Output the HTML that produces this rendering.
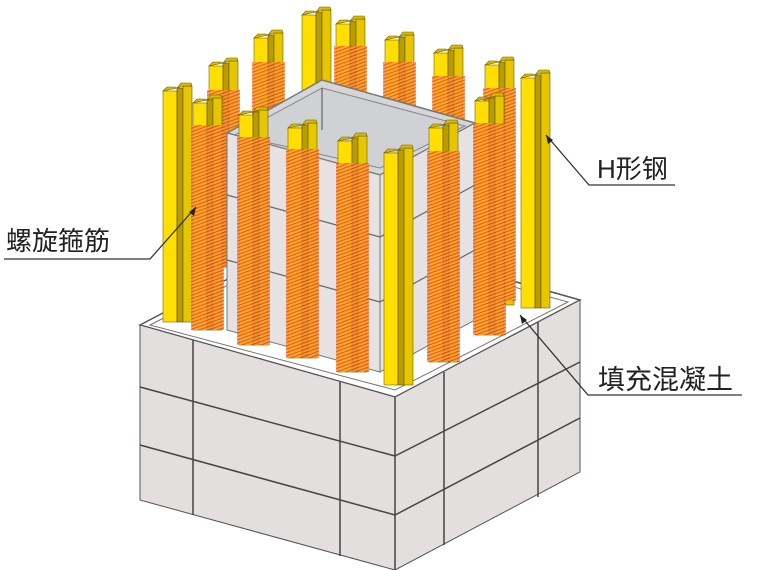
<!DOCTYPE html>
<html><head><meta charset="utf-8"><style>
html,body{margin:0;padding:0;background:#fff;overflow:hidden}
svg{display:block}
text{font-family:"Liberation Sans","Noto Sans CJK SC",sans-serif;fill:#222}
</style></head><body>
<svg width="760" height="570" viewBox="0 0 760 570" xmlns="http://www.w3.org/2000/svg">
<defs>
<pattern id="sp" width="6" height="3.2" patternUnits="userSpaceOnUse" patternTransform="rotate(-20)">
<rect width="6" height="3.2" fill="#F7A21A"/>
<rect y="0" width="6" height="1.1" fill="#E8285A"/>
</pattern>
<path id="cap" d="M0,0 L4,-4 L12,-4 L14,-3 L18,-8 L28,-8 L29,-5 L20,-5 L14,-3 Z" fill="#D8BC00" stroke="#6a5a00" stroke-width="0.6"/>
</defs>

<!-- base block -->
<polygon points="140,325 325,228 580,300 395,397" fill="#fff" stroke="#555" stroke-width="1.5"/>
<polygon points="150,325 326,235 568,302 395,390" fill="none" stroke="#777" stroke-width="1"/>
<polygon points="140,325 395,397 395,570 140,500" fill="#E3DFDE" stroke="#555" stroke-width="1"/>
<polygon points="395,397 580,300 580,472 395,570" fill="#E3DFDE" stroke="#555" stroke-width="1"/>
<g stroke="#444" stroke-width="1.5" fill="none">
<line x1="140" y1="387" x2="395" y2="456"/>
<line x1="140" y1="445" x2="395" y2="515"/>
<line x1="395" y1="456" x2="580" y2="362"/>
<line x1="395" y1="515" x2="580" y2="418"/>
<line x1="193" y1="340" x2="193" y2="515"/>
<line x1="340" y1="382" x2="340" y2="556"/>
<line x1="444" y1="372" x2="444" y2="545"/>
<line x1="538" y1="322" x2="538" y2="497"/>
<line x1="395" y1="397" x2="395" y2="570"/>
</g>

<!-- back columns -->
<g stroke-width="0.6">
<g transform="translate(209,66)"><rect width="14" height="200" fill="#FFDE00" stroke="#7a6a00"/><rect x="14" y="-3" width="6" height="203" fill="#B89C00" stroke="#5a4c00"/><rect x="20" y="-5" width="9" height="205" fill="#E6C600" stroke="#6a5a00"/><use href="#cap"/></g>
<rect x="207" y="90" width="33" height="178" fill="url(#sp)" opacity="0.75"/>
<g transform="translate(254,38)"><rect width="14" height="200" fill="#FFDE00" stroke="#7a6a00"/><rect x="14" y="-3" width="6" height="203" fill="#B89C00" stroke="#5a4c00"/><rect x="20" y="-5" width="9" height="205" fill="#E6C600" stroke="#6a5a00"/><use href="#cap"/></g>
<rect x="252" y="62" width="33" height="178" fill="url(#sp)" opacity="0.75"/>
<g transform="translate(302,15)"><rect width="14" height="200" fill="#FFDE00" stroke="#7a6a00"/><rect x="14" y="-3" width="6" height="203" fill="#B89C00" stroke="#5a4c00"/><rect x="20" y="-5" width="9" height="205" fill="#E6C600" stroke="#6a5a00"/><use href="#cap"/></g>
<g transform="translate(336,24)"><rect width="14" height="200" fill="#FFDE00" stroke="#7a6a00"/><rect x="14" y="-3" width="6" height="203" fill="#B89C00" stroke="#5a4c00"/><rect x="20" y="-5" width="9" height="205" fill="#E6C600" stroke="#6a5a00"/><use href="#cap"/></g>
<rect x="334" y="46" width="33" height="178" fill="url(#sp)" opacity="0.75"/>
<g transform="translate(385,40)"><rect width="14" height="200" fill="#FFDE00" stroke="#7a6a00"/><rect x="14" y="-3" width="6" height="203" fill="#B89C00" stroke="#5a4c00"/><rect x="20" y="-5" width="9" height="205" fill="#E6C600" stroke="#6a5a00"/><use href="#cap"/></g>
<rect x="383" y="62" width="33" height="178" fill="url(#sp)" opacity="0.75"/>
<g transform="translate(434,53)"><rect width="14" height="200" fill="#FFDE00" stroke="#7a6a00"/><rect x="14" y="-3" width="6" height="203" fill="#B89C00" stroke="#5a4c00"/><rect x="20" y="-5" width="9" height="205" fill="#E6C600" stroke="#6a5a00"/><use href="#cap"/></g>
<rect x="432" y="76" width="33" height="178" fill="url(#sp)" opacity="0.75"/>
<g transform="translate(485,65)"><rect width="14" height="240" fill="#FFDE00" stroke="#7a6a00"/><rect x="14" y="-3" width="6" height="243" fill="#B89C00" stroke="#5a4c00"/><rect x="20" y="-5" width="9" height="245" fill="#E6C600" stroke="#6a5a00"/><use href="#cap"/></g>
<rect x="483" y="88" width="33" height="213" fill="url(#sp)" opacity="0.75"/>
</g>

<!-- core -->
<polygon points="227,133 322,80 475,123 380,175" fill="#D4D6DA" stroke="#777" stroke-width="1.5"/>
<polygon points="235,135 322,88 465,126 380,168" fill="#CFD1D5" stroke="#888" stroke-width="1"/>
<polygon points="227,133 380,175 380,372 227,330" fill="#E6E2E2" stroke="#777" stroke-width="1"/>
<polygon points="380,175 475,123 475,320 380,372" fill="#E6E2E2" stroke="#777" stroke-width="1"/>
<g stroke="#666" stroke-width="1.2">
<line x1="227" y1="195" x2="380" y2="237"/>
<line x1="227" y1="260" x2="380" y2="302"/>
<line x1="380" y1="237" x2="475" y2="185"/>
<line x1="380" y1="302" x2="475" y2="250"/>
<line x1="322" y1="88" x2="322" y2="130"/>
</g>

<!-- front columns -->
<g stroke-width="0.6">
<g transform="translate(163,91)"><rect width="14" height="231" fill="#FFDE00" stroke="#7a6a00"/><rect x="14" y="-3" width="6" height="234" fill="#B89C00" stroke="#5a4c00"/><rect x="20" y="-5" width="9" height="236" fill="#E6C600" stroke="#6a5a00"/><use href="#cap"/></g>

<g transform="translate(193,103)"><rect width="14" height="227" fill="#FFDE00" stroke="#7a6a00"/><rect x="14" y="-3" width="6" height="230" fill="#B89C00" stroke="#5a4c00"/><rect x="20" y="-5" width="9" height="232" fill="#E6C600" stroke="#6a5a00"/><use href="#cap"/></g>
<rect x="191" y="125" width="33" height="205" fill="url(#sp)" opacity="0.78"/>

<g transform="translate(239,115)"><rect width="14" height="230" fill="#FFDE00" stroke="#7a6a00"/><rect x="14" y="-3" width="6" height="233" fill="#B89C00" stroke="#5a4c00"/><rect x="20" y="-5" width="9" height="235" fill="#E6C600" stroke="#6a5a00"/><use href="#cap"/></g>
<rect x="237" y="137" width="33" height="208" fill="url(#sp)" opacity="0.78"/>

<g transform="translate(288,128)"><rect width="14" height="230" fill="#FFDE00" stroke="#7a6a00"/><rect x="14" y="-3" width="6" height="233" fill="#B89C00" stroke="#5a4c00"/><rect x="20" y="-5" width="9" height="235" fill="#E6C600" stroke="#6a5a00"/><use href="#cap"/></g>
<rect x="286" y="149" width="33" height="209" fill="url(#sp)" opacity="0.78"/>

<g transform="translate(338,141)"><rect width="14" height="231" fill="#FFDE00" stroke="#7a6a00"/><rect x="14" y="-3" width="6" height="234" fill="#B89C00" stroke="#5a4c00"/><rect x="20" y="-5" width="9" height="236" fill="#E6C600" stroke="#6a5a00"/><use href="#cap"/></g>
<rect x="336" y="163" width="33" height="209" fill="url(#sp)" opacity="0.78"/>

<g transform="translate(384,153)"><rect width="14" height="232" fill="#FFDE00" stroke="#7a6a00"/><rect x="14" y="-3" width="6" height="235" fill="#B89C00" stroke="#5a4c00"/><rect x="20" y="-5" width="9" height="237" fill="#E6C600" stroke="#6a5a00"/><use href="#cap"/></g>

<g transform="translate(429,128)"><rect width="14" height="234" fill="#FFDE00" stroke="#7a6a00"/><rect x="14" y="-3" width="6" height="237" fill="#B89C00" stroke="#5a4c00"/><rect x="20" y="-5" width="9" height="239" fill="#E6C600" stroke="#6a5a00"/><use href="#cap"/></g>
<rect x="427" y="151" width="33" height="211" fill="url(#sp)" opacity="0.78"/>

<g transform="translate(475,101)"><rect width="14" height="234" fill="#FFDE00" stroke="#7a6a00"/><rect x="14" y="-3" width="6" height="237" fill="#B89C00" stroke="#5a4c00"/><rect x="20" y="-5" width="9" height="239" fill="#E6C600" stroke="#6a5a00"/><use href="#cap"/></g>
<rect x="473" y="123" width="33" height="212" fill="url(#sp)" opacity="0.78"/>

<g transform="translate(521,78)"><rect width="14" height="230" fill="#FFDE00" stroke="#7a6a00"/><rect x="14" y="-3" width="6" height="233" fill="#B89C00" stroke="#5a4c00"/><rect x="20" y="-5" width="9" height="235" fill="#E6C600" stroke="#6a5a00"/><use href="#cap"/></g>
</g>

<!-- labels -->
<g stroke="#333" stroke-width="1.3" fill="none">
<polyline points="546,135 589,185 675,185"/>
<polyline points="520,315 588,395 742,395"/>
<polyline points="196,207 150,259 4,259"/>
</g>
<polygon points="546,135 548,144 553,140" fill="#222"/>
<polygon points="520,315 522,324 527,320" fill="#222"/>
<polygon points="196,207 189,212 194,216" fill="#222"/>
<text x="597" y="178" font-size="26">H形钢</text>
<text x="598" y="389" font-size="27">填充混凝土</text>
<text x="6" y="250" font-size="26">螺旋箍筋</text>
</svg>
</body></html>
